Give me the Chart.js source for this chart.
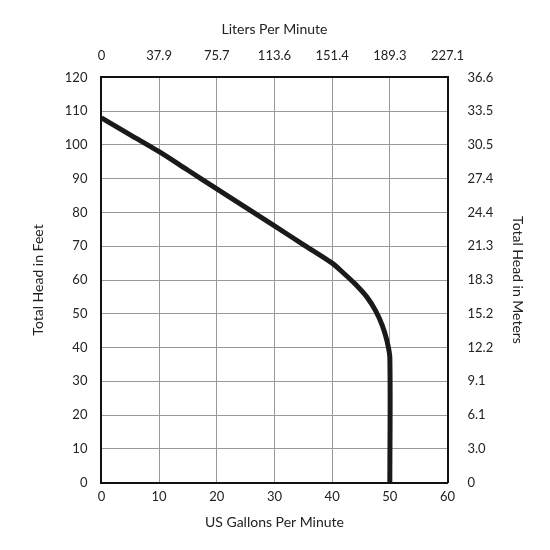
<!DOCTYPE html>
<html>
<head>
<meta charset="utf-8">
<script src="https://cdn.jsdelivr.net/npm/chart.js@4"></script>
<style>
body { margin: 0; background: #fff; }
#wrap { width: 550px; height: 550px; }
</style>
</head>
<body>
<div id="wrap"><canvas id="chartPump"></canvas></div>
<script>
// curve
const gpm = [0, 5, 10, 15, 20, 25, 30, 35, 40, 42, 44, 46, 47.5, 48.7, 49.5, 50, 50]
const headFt = [108, 103, 98, 92.5, 87, 81.5, 76, 70.5, 65, 62, 58.8, 55, 51, 46.5, 42, 37, 0]
const lpmLabels = ['0', '37.9', '75.7', '113.6', '151.4', '189.3', '227.1']
const meterLabels = ['0', '3.0', '6.1', '9.1', '12.2', '15.2', '18.3', '21.3', '24.4', '27.4', '30.5', '33.5', '36.6']

Chart.defaults.font.family = 'Lato'
Chart.defaults.font.size = 13
Chart.defaults.color = '#222'

const points = gpm.map((x, i) => ({ x: x, y: headFt[i] }))
const grid = { color: '#999', lineWidth: 1, drawTicks: false }
const border = { color: '#111', width: 2 }

var ctx = document.getElementById('chartPump').getContext('2d')
var chart = new Chart(ctx, {
    type: 'line',
    data: {
        datasets: [{
            data: points,
            borderColor: '#1a1a1a',
            borderWidth: 5,
            pointRadius: 0,
            tension: 0.3,
            fill: false
        }]
    },
    options: {
        responsive: true,
        maintainAspectRatio: false,
        animation: false,
        layout: { padding: { left: 26, right: 20, top: 17, bottom: 15 } },
        plugins: { legend: { display: false }, tooltip: { enabled: false } },
        scales: {
            x: {
                type: 'linear', position: 'bottom', min: 0, max: 60,
                ticks: { stepSize: 10, padding: 6 },
                grid: grid, border: border,
                title: { display: true, text: 'US Gallons Per Minute', font: { size: 14 } }
            },
            x2: {
                type: 'linear', position: 'top', min: 0, max: 60,
                ticks: { stepSize: 10, padding: 6, callback: (v, i) => lpmLabels[i] },
                grid: { display: false }, border: border,
                title: { display: true, text: 'Liters Per Minute', font: { size: 14 } }
            },
            y: {
                type: 'linear', position: 'left', min: 0, max: 120,
                ticks: { stepSize: 10, padding: 14 },
                grid: grid, border: border,
                title: { display: true, text: 'Total Head in Feet', font: { size: 14 } }
            },
            y2: {
                type: 'linear', position: 'right', min: 0, max: 120,
                ticks: { stepSize: 10, padding: 12, callback: (v, i) => meterLabels[i] },
                grid: { display: false }, border: border,
                title: { display: true, text: 'Total Head in Meters', font: { size: 14 } }
            }
        }
    }
})
</script>
</body>
</html>
